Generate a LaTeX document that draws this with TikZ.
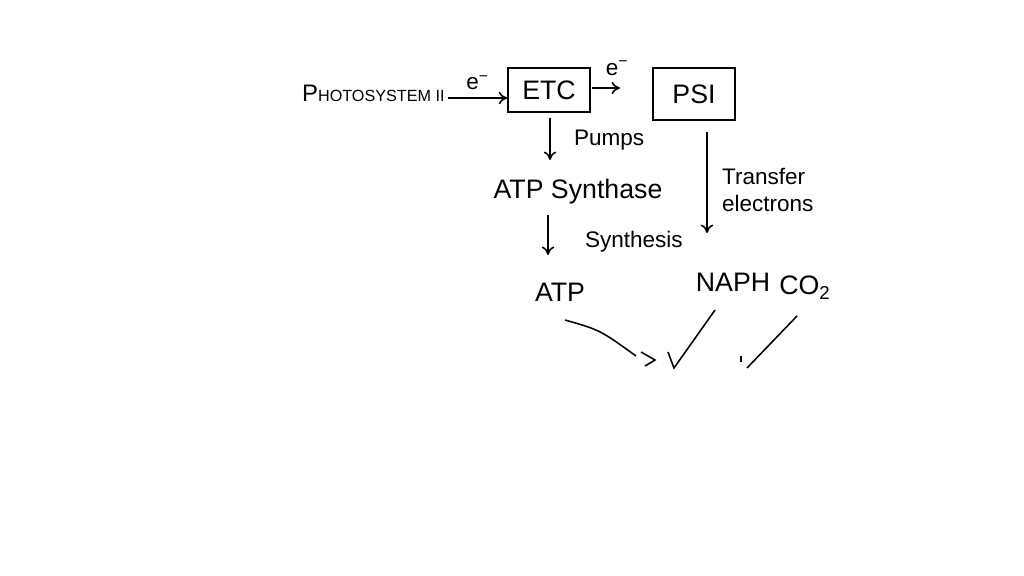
\documentclass[tikz,border=0pt]{standalone}
\usepackage{fontspec}
\setmainfont{Liberation Sans}
\usetikzlibrary{arrows.meta}
\begin{document}
\begin{tikzpicture}[x=0.025cm,y=-0.025cm,line width=1.1pt,
  lbl/.style={inner sep=1pt,font=\fontsize{19}{22}\selectfont},
  small/.style={inner sep=1pt,font=\fontsize{16}{19}\selectfont},
  boxn/.style={draw,minimum width=82*0.025cm,minimum height=44*0.025cm,font=\fontsize{19}{22}\selectfont},
  arr/.style={-{To[length=6pt,width=9pt]}}]
\useasboundingbox (0,0) rectangle (1024,576);
\node[inner sep=1pt,anchor=west] (ps2) at (300,93) {\fontsize{17}{20}\selectfont P\fontsize{11.5}{14}\selectfont HOTOSYSTEM II};
\node[boxn] (etc) at (549,90) {ETC};
\node[boxn,minimum height=52*0.025cm] (psi) at (694,94) {PSI};
\node[lbl] (atps) at (578,192) {ATP Synthase};
\node[lbl] (atp) at (560,292) {ATP};
\node[lbl] (naph) at (733,282) {NAPH};
\node[lbl] (co2) at (805,288) {CO\textsubscript{2}};
\coordinate (a1) at (448,98);
\draw[arr] (a1) -- (a1-|etc.west) node[midway,above=4pt,small] (e1) {e\textsuperscript{−}};
\coordinate (a2) at (592,88);
\draw[arr] (a2) -- (620,88) coordinate (a3);
\node[small] (e2) at (617,68) {e\textsuperscript{−}};
\draw[arr] (550,118) coordinate (b1) -- (550,160) coordinate (b2);
\node[small,anchor=west] (pumps) at (572,140) {Pumps};
\draw[arr] (548,215) coordinate (c1) -- (548,255) coordinate (c2);
\node[small,anchor=west] (syn) at (583,242) {Synthesis};
\draw[arr] (707,132) coordinate (d1) -- (707,233) coordinate (d2);
\node[small,anchor=west,align=left] (tr) at (720,190) {Transfer\\electrons};
\coordinate (f1) at (565,320); \coordinate (f2) at (636,356);
\draw (f1) .. controls (600,330) .. (f2);
\draw (641,352) -- (655,360) -- (645,366);
\draw (668,352) -- (674,368) -- (715,310);
\draw (797,316) -- (747,368);
\draw (741,356) -- (741,362);
\end{tikzpicture}
\end{document}
